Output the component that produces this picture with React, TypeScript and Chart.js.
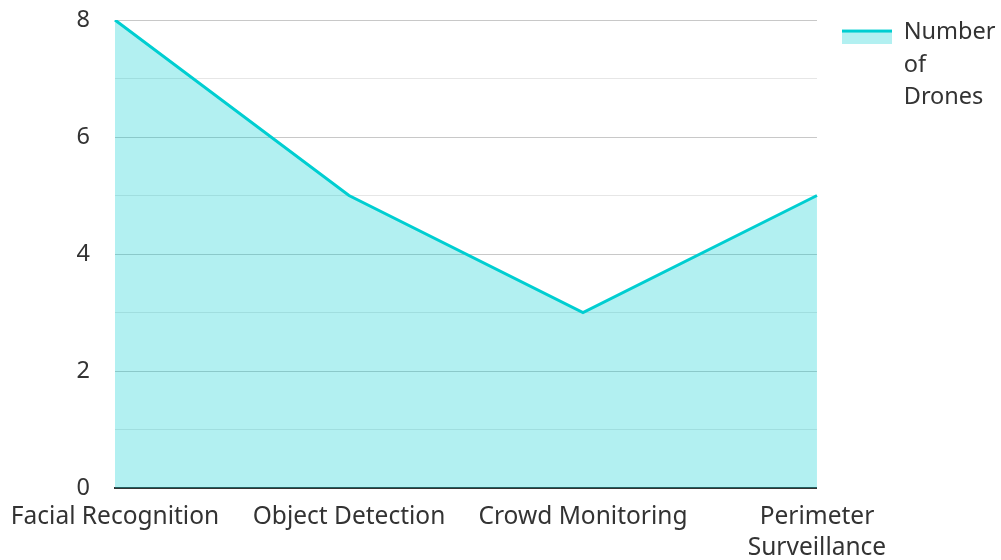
import React, { useEffect, useRef } from "react";
import { Chart, registerables } from "chart.js";

Chart.register(...registerables);

const categories = ["Facial Recognition", "Object Detection", "Crowd Monitoring", "Perimeter Surveillance"];
const droneCounts = [8, 5, 3, 5];
const seriesLabel = "Number of Drones";
const yTickValues = [0, 2, 4, 6, 8];

const LINE = "rgb(0, 206, 209)";
const FILL = "rgba(0, 206, 209, 0.3)";
const TEXT = "#333";
const FONT = "'Noto Sans', sans-serif";

function makeLegendSwatch(): HTMLCanvasElement {
  const c = document.createElement("canvas");
  c.width = 50;
  c.height = 22;
  const ctx = c.getContext("2d")!;
  ctx.fillStyle = FILL;
  ctx.fillRect(0, 8, 50, 14);
  ctx.fillStyle = LINE;
  ctx.fillRect(0, 8, 50, 3);
  return c;
}

// split the legend label into one word per line; the widest word is
// listed so that Chart.js measures it for the legend width
function wrapWords(label: string, ctx: CanvasRenderingContext2D, font: string): string[] {
  const words = label.split(" ");
  ctx.save();
  ctx.font = font;
  let widest = 0;
  let wi = 0;
  words.forEach((w, i) => {
    const m = ctx.measureText(w).width;
    if (m > widest) {
      widest = m;
      wi = i;
    }
  });
  ctx.restore();
  const maxLen = Math.max(...words.map((w) => w.length));
  return words.map((w, i) => (i === wi ? w + "\u200B".repeat(maxLen - w.length + 1) : w));
}

export default function App() {
  const ref = useRef<HTMLCanvasElement | null>(null);
  useEffect(() => {
    if (!ref.current) return;
    const swatch = makeLegendSwatch();
    const chart = new Chart(ref.current, {
      type: "line",
      data: {
        labels: categories,
        datasets: [
          {
            label: seriesLabel,
            data: droneCounts,
            borderColor: LINE,
            backgroundColor: FILL,
            borderWidth: 3,
            fill: true,
            pointRadius: 0,
            tension: 0,
          },
        ],
      },
      options: {
        animation: false,
        responsive: true,
        maintainAspectRatio: false,
        layout: { padding: { top: -4.2, right: -4.5, left: 0, bottom: 0 } },
        font: { family: FONT, size: 20 },
        color: TEXT,
        plugins: {
          tooltip: { enabled: false },
          legend: {
            position: "right",
            align: "start",
            labels: {
              color: TEXT,
              font: { family: FONT, size: 23.5, lineHeight: 1.38 },
              usePointStyle: true,
              pointStyleWidth: 50,
              boxHeight: 14,
              padding: 25,
              generateLabels: (ch: any) => {
                const ds = ch.data.datasets[0];
                return [
                  {
                    text: wrapWords(String(ds.label), ch.ctx, "23.5px " + FONT),
                    fillStyle: FILL,
                    strokeStyle: LINE,
                    lineWidth: 0,
                    pointStyle: swatch,
                    datasetIndex: 0,
                    hidden: false,
                    fontColor: TEXT,
                  },
                ];
              },
            },
          },
        },
        scales: {
          x: {
            grid: { display: false, drawTicks: false },
            border: { display: true, color: TEXT, width: 2 },
            afterFit: (s: any) => {
              s.height = 72;
              s.paddingLeft = 0;
              s.paddingRight = 0;
            },
            ticks: {
              color: TEXT,
              padding: 14,
              maxRotation: 0,
              autoSkip: false,
              font: { family: FONT, size: 24.5, lineHeight: 1.265 },
              callback: function (this: any, value: any) {
                const s = String(this.getLabelForValue(value));
                return s.length > 18 ? s.split(" ") : s;
              },
            },
          },
          y: {
            min: 0,
            max: 8,
            border: { display: false },
            afterFit: (s: any) => {
              s.width = 115;
              s.paddingTop = 20;
            },
            grid: {
              drawTicks: false,
              color: (ctx: any) =>
                ctx.tick && yTickValues.includes(ctx.tick.value) ? "#c8c8c8" : "#e6e6e6",
              lineWidth: 1,
            },
            ticks: {
              stepSize: 1,
              color: TEXT,
              padding: 25,
              font: { family: FONT, size: 23.5 },
              callback: (v: any) => (yTickValues.includes(Number(v)) ? String(v) : ""),
            },
          },
        },
      },
    });
    return () => chart.destroy();
  }, []);
  return (
    <div style={{ position: "fixed", left: 0, top: 0, width: 1001, height: 560 }}>
      <canvas ref={ref} />
    </div>
  );
}
